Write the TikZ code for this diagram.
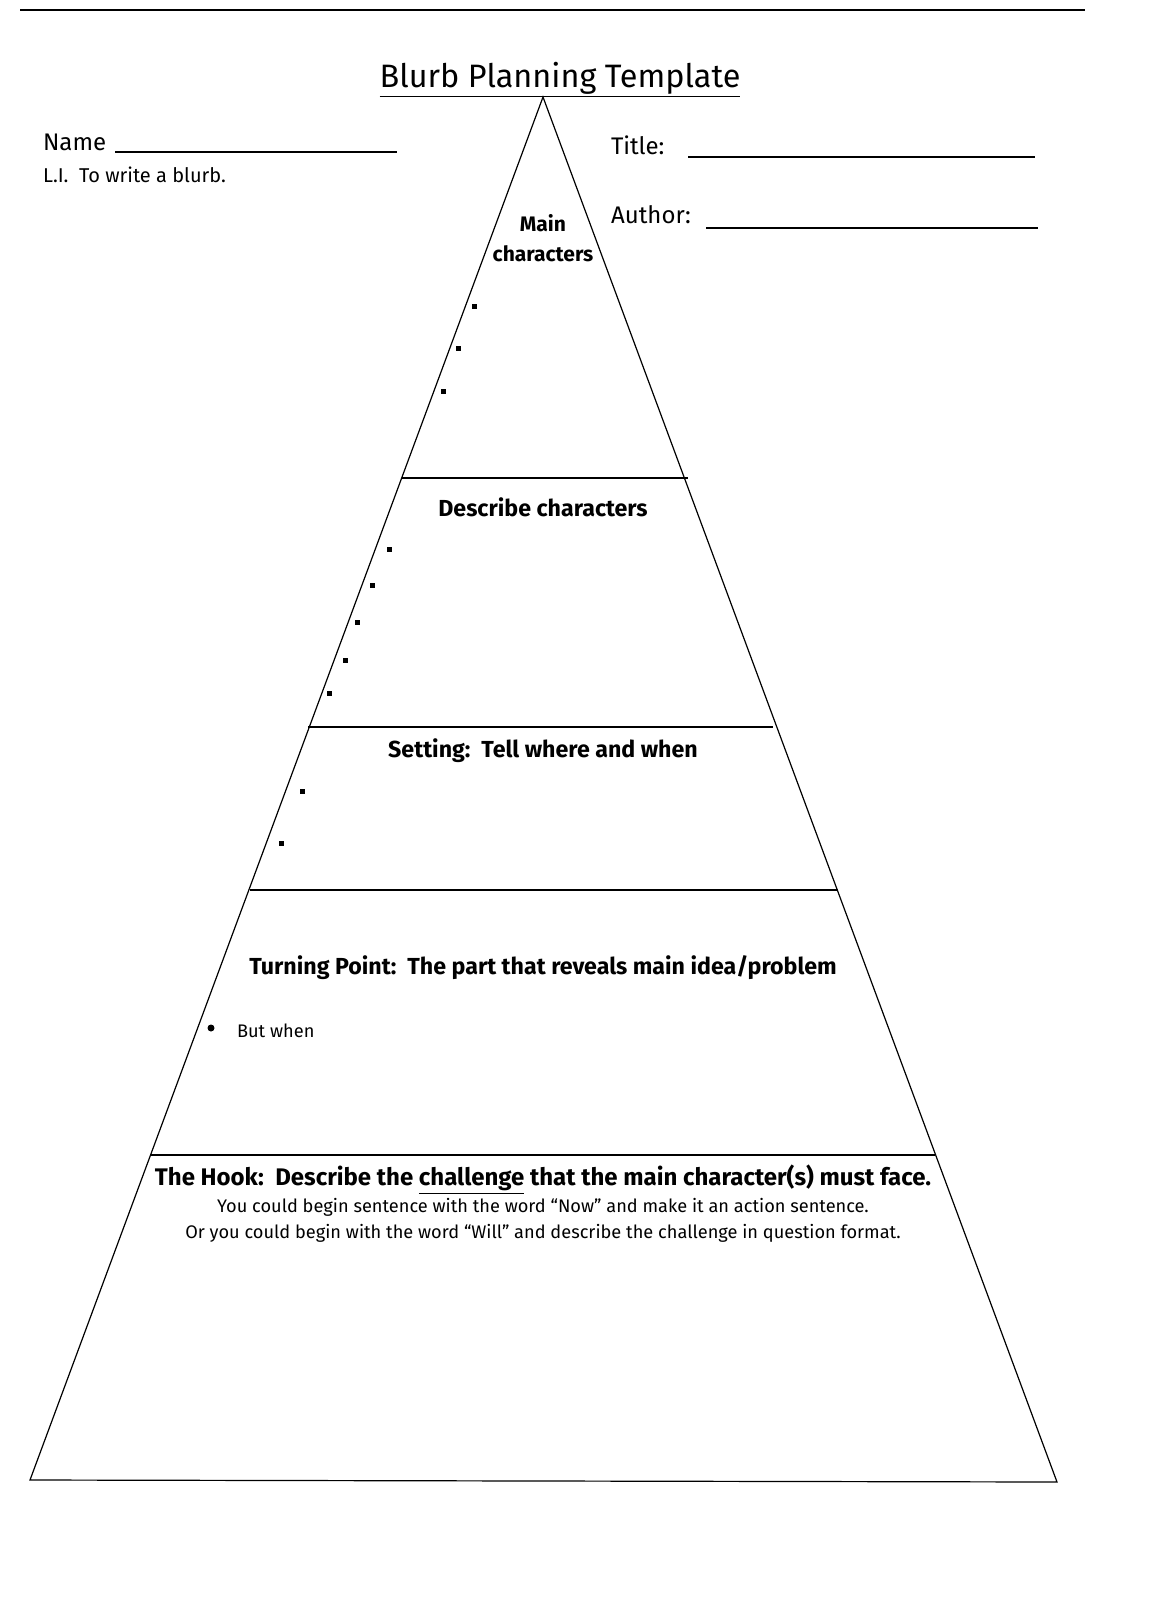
\documentclass[tikz,border=0pt]{standalone}
\usepackage{fontspec}
\setmainfont{Fira Sans}
\begin{document}
\begin{tikzpicture}[x=0.5pt,y=-0.5pt,
  ln/.style={line width=0.6pt},
  bul/.style={fill=black,minimum size=2.5pt,inner sep=0pt},
  lbl/.style={font=\fontsize{11.6}{14}\selectfont\bfseries},
  txt/.style={font=\fontsize{10}{12}\selectfont},
  small/.style={font=\fontsize{9.1}{11}\selectfont}]
\useasboundingbox (0,0) rectangle (1154,1600);
\draw[line width=1.2pt] (20,10) -- (1085,10);
\node[font=\fontsize{16.2}{19}\selectfont] (title) at (560,80) {\underline{Blurb Planning Template}};
\node[font=\fontsize{12}{14}\selectfont,anchor=west] (name) at (36,142) {Name};
\draw[ln] (115,152) -- (397,152);
\node[font=\fontsize{10}{12}\selectfont,anchor=west] (li) at (36,175) {L.I.\ \ To write a blurb.};
\node[font=\fontsize{12}{14}\selectfont,anchor=west] (ti) at (604,145) {Title:};
\draw[line width=1.2pt] (688,157) -- (1035,157);
\node[font=\fontsize{12}{14}\selectfont,anchor=west] (au) at (604,215) {Author:};
\draw[line width=1.2pt] (706,228) -- (1038,228);
% pyramid
\coordinate (A) at (543,97);
\coordinate (L) at (30,1480);
\coordinate (R) at (1057,1482);
\draw[ln] (L) -- (A) -- (R) -- cycle;
\draw[ln] (402,478) -- (688,478);
\draw[ln] (308,727) -- (773,727);
\draw[ln] (250,890) -- (838,890);
\draw[ln] (150,1155) -- (935,1155);
\node[lbl,align=center,font=\fontsize{10.5}{13}\selectfont\bfseries] (mc) at (543,238) {Main\\[2pt]characters};
\foreach \p in {(474,306),(458,348),(443,391)} \node[bul] at \p {};
\node[lbl] (dc) at (543,507) {Describe characters};
\foreach \p in {(389,549),(372,585),(357,622),(345,660),(329,693)} \node[bul] at \p {};
\node[lbl] (st) at (543,751) {Setting:\ \ Tell where and when};
\foreach \p in {(302,791),(281,843)} \node[bul] at \p {};
\node[lbl] (tp) at (543,968) {Turning Point:\ \ The part that reveals main idea/problem};
\node[circle,fill=black,inner sep=0pt,minimum size=3.5pt] (b) at (211,1028) {};
\node[small,anchor=west] (bw) at (230,1031) {But when};
\node[lbl,font=\fontsize{12}{14}\selectfont\bfseries] (hk) at (543,1180) {The Hook:\ \ Describe the \underline{challenge} that the main character(s) must face.};
\node[small,align=center] (hk2) at (543,1220) {You could begin sentence with the word ``Now'' and make it an action sentence.\\[2pt]Or you could begin with the word ``Will'' and describe the challenge in question format.};
\end{tikzpicture}
\end{document}
